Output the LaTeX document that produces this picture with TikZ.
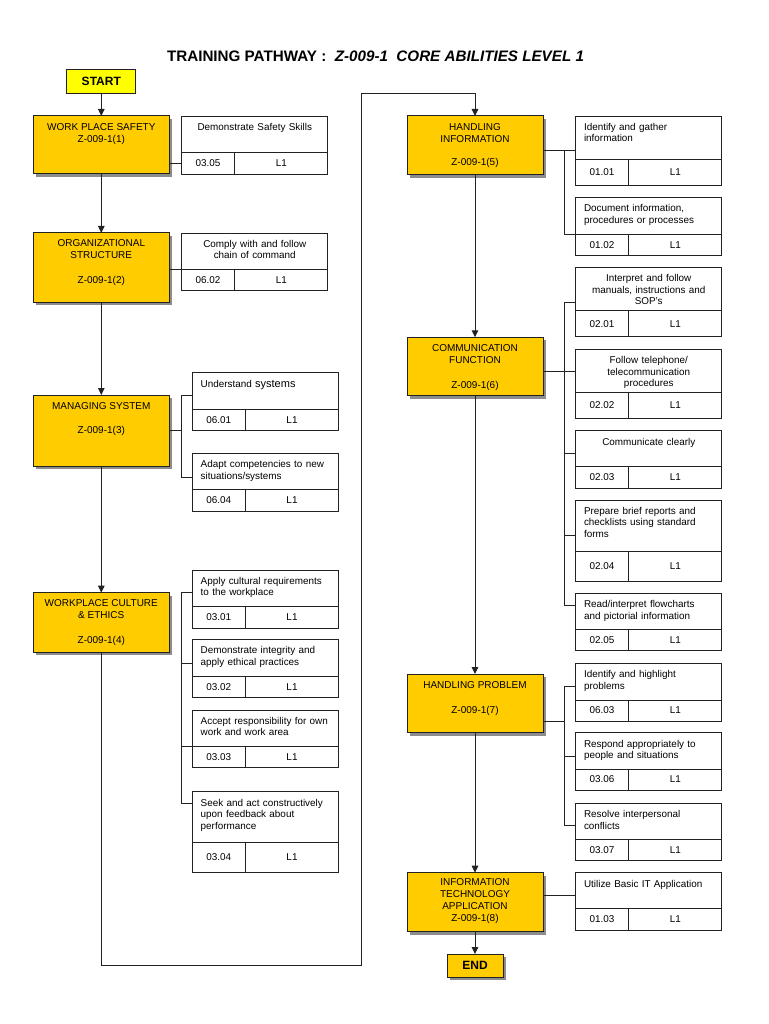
\documentclass[tikz,border=0pt]{standalone}
\usepackage{fontspec}
\setmainfont{Liberation Sans}
\usetikzlibrary{arrows.meta, positioning, shadows}
\definecolor{tpGold}{HTML}{FFCC00}
\definecolor{tpYellow}{HTML}{FFFF00}
\definecolor{tpLine}{HTML}{222222}
\definecolor{tpShadow}{HTML}{8C8C8C}
\tikzset{
  unitbox/.style={rectangle, draw=tpLine, line width=1pt, fill=tpGold,
    minimum width=136pt, inner sep=0pt, outer sep=0pt, anchor=north,
    drop shadow={shadow xshift=3pt, shadow yshift=-3pt, fill=tpShadow, opacity=1}},
  unittext/.style={align=center, inner sep=0pt, font=\fontsize{10}{12}\selectfont},
  termbox/.style={rectangle, draw=tpLine, line width=1pt, inner sep=0pt, outer sep=0pt,
    font=\bfseries\fontsize{12}{14}\selectfont},
  descbox/.style={rectangle, draw=tpLine, line width=0.9pt, anchor=north west,
    minimum width=146.5pt, inner sep=0pt, outer sep=0pt},
  descL/.style={anchor=north west, xshift=8.5pt, yshift=-7pt, text width=137pt,
    align=left, inner sep=0pt, font=\fontsize{9.9}{11.5}\selectfont},
  descC/.style={anchor=north west, xshift=4.75pt, yshift=-7pt, text width=137pt,
    align=center, inner sep=0pt, font=\fontsize{9.9}{11.5}\selectfont},
  codecell/.style={rectangle, draw=tpLine, line width=0.9pt, anchor=north west,
    minimum width=53.5pt, inner sep=0pt, outer sep=0pt, font=\fontsize{9.9}{11.5}\selectfont},
  lvlcell/.style={rectangle, draw=tpLine, line width=0.9pt, anchor=north west,
    minimum width=93pt, inner sep=0pt, outer sep=0pt, font=\fontsize{9.9}{11.5}\selectfont},
  flow/.style={-{Triangle[length=7pt, width=6.5pt]}, line width=1pt, draw=tpLine},
  link/.style={line width=0.9pt, draw=tpLine}
}
% skill box: name, top-left, text height, row height, text style, text, code
\newcommand{\skill}[7]{%
  \node[descbox, minimum height=#3] (#1) at (#2) {};
  \node[#5] at (#1.north west) {#6};
  \node[codecell, minimum height=#4] (#1c) at (#1.south west) {#7};
  \node[lvlcell, minimum height=#4] (#1l) at (#1c.north east) {L1};}

\begin{document}
\begin{tikzpicture}[x=1pt, y=-1pt]
  \fill[white] (0,0) rectangle (768,1024);
  \useasboundingbox (0,0) rectangle (768,1024);

  \node[font=\bfseries\fontsize{15.2}{17}\selectfont] (title) at (375.5,56)
    {TRAINING PATHWAY :\ \ \textit{Z-009-1\ \ CORE ABILITIES LEVEL 1}};

  % left column
  \node[termbox, fill=tpYellow, minimum width=68.7, minimum height=24] (start) at (101.3,81.3) {START};

  \node[unitbox, minimum height=58] (u1) at (101.3,116) {};
  \node[unittext, below=7pt of u1.north] {WORK PLACE SAFETY\\Z-009-1(1)};
  \node[unitbox, minimum height=69] (u2) at (101.3,233) {};
  \node[unittext, below=6pt of u2.north] {ORGANIZATIONAL\\STRUCTURE\\[13pt]Z-009-1(2)};
  \node[unitbox, minimum height=71] (u3) at (101.3,395) {};
  \node[unittext, below=7pt of u3.north] {MANAGING SYSTEM\\[12.7pt]Z-009-1(3)};
  \node[unitbox, minimum height=59.3] (u4) at (101.3,592.7) {};
  \node[unittext, below=7pt of u4.north] {WORKPLACE CULTURE\\\& ETHICS\\[12.7pt]Z-009-1(4)};

  \skill{s1}{181.3,116}{36.7}{21.3}{descC}{Demonstrate Safety Skills}{03.05}
  \skill{s2}{181.3,233}{36.3}{21.4}{descC}{Comply with and follow\\chain of command}{06.02}
  \skill{s3a}{192,372.7}{36.6}{21.4}{descL}{Understand {\fontsize{11}{11.5}\selectfont systems}}{06.01}
  \skill{s3b}{192,453.3}{36}{21.7}{descL}{Adapt competencies to new\\situations/systems}{06.04}
  \skill{s4a}{192,570}{36.7}{21.6}{descL}{Apply cultural requirements\\to the workplace}{03.01}
  \skill{s4b}{192,639.3}{36.7}{21.3}{descL}{Demonstrate integrity and\\apply ethical practices}{03.02}
  \skill{s4c}{192,710}{36}{21.7}{descL}{Accept responsibility for own\\work and work area}{03.03}
  \skill{s4d}{192,791.7}{51}{29.6}{descL}{Seek and act constructively\\upon feedback about\\performance}{03.04}

  % right column
  \node[unitbox, minimum height=59] (u5) at (475,116) {};
  \node[unittext, below=7pt of u5.north] {HANDLING\\INFORMATION\\[11.4pt]Z-009-1(5)};
  \node[unitbox, minimum height=58.4] (u6) at (475,337.3) {};
  \node[unittext, below=7pt of u6.north] {COMMUNICATION\\FUNCTION\\[12.7pt]Z-009-1(6)};
  \node[unitbox, minimum height=58.7] (u7) at (475,674) {};
  \node[unittext, below=7pt of u7.north] {HANDLING PROBLEM\\[13.4pt]Z-009-1(7)};
  \node[unitbox, minimum height=59] (u8) at (475,872.7) {};
  \node[unittext, below=6pt of u8.north] {INFORMATION\\TECHNOLOGY\\APPLICATION\\Z-009-1(8)};
  \node[termbox, fill=tpGold, minimum width=56, minimum height=23.3,
    drop shadow={shadow xshift=3pt, shadow yshift=-3pt, fill=tpShadow, opacity=1}] (finish) at (475,965.7) {END};

  \skill{s5a}{575.3,116}{43.3}{26.4}{descL}{Identify and gather\\information}{01.01}
  \skill{s5b}{575.3,197.3}{37}{21.4}{descL}{Document information,\\procedures or processes}{01.02}
  \skill{s6a}{575.3,267.3}{43.4}{26}{descC}{Interpret and follow\\manuals, instructions and\\SOP's}{02.01}
  \skill{s6b}{575.3,349.3}{43.4}{25.6}{descC}{Follow telephone/\\telecommunication\\procedures}{02.02}
  \skill{s6c}{575.3,430.7}{36}{21.6}{descC}{Communicate clearly}{02.03}
  \skill{s6d}{575.3,500}{51}{30}{descL}{Prepare brief reports and\\checklists using standard\\forms}{02.04}
  \skill{s6e}{575.3,593.3}{36}{21.4}{descL}{Read/interpret flowcharts\\and pictorial information}{02.05}
  \skill{s7a}{575.3,663.3}{36.7}{21}{descL}{Identify and highlight\\problems}{06.03}
  \skill{s7b}{575.3,732.7}{36.3}{21}{descL}{Respond appropriately to\\people and situations}{03.06}
  \skill{s7c}{575.3,803.3}{36}{21.4}{descL}{Resolve interpersonal\\conflicts}{03.07}
  \skill{s8}{575.3,872.7}{36}{21.3}{descL}{Utilize Basic IT Application}{01.03}

  % main flow
  \coordinate (loopA) at (361.7,965.7);
  \coordinate (loopB) at (361.7,93.3);
  \draw[flow] (start) -- (u1);
  \draw[flow] (u1) -- (u2);
  \draw[flow] (u2) -- (u3);
  \draw[flow] (u3) -- (u4);
  \draw[flow] (u4.south) |- (loopA) -- (loopB) -| (u5.north);
  \draw[flow] (u5) -- (u6);
  \draw[flow] (u6) -- (u7);
  \draw[flow] (u7) -- (u8);
  \draw[flow] (u8) -- (finish);

  % unit to skill links
  \draw[link] (u1.east |- s1c.west) -- (s1c.west);
  \draw[link] (u2.east |- s2c.north west) -- (s2c.north west);

  \coordinate (j3) at ([xshift=-10.7, yshift=-4]s3a.west);
  \draw[link] ([yshift=-4]s3a.west) -- (j3) |- ([yshift=-6]s3b.west);
  \draw[link] (u3.east |- s3ac.south) -- (j3 |- s3ac.south);

  \coordinate (j4) at ([xshift=-10.7, yshift=-4]s4a.west);
  \draw[link] ([yshift=-4]s4a.west) -- (j4) |- ([yshift=-12]s4d.north west);
  \draw[link] ([yshift=-6]s4b.west) -- ++(-10.7,0);
  \draw[link] (s4c.south west) -- ++(-10.7,0);

  \coordinate (j5) at ([xshift=-11.3, yshift=-13]s5a.west);
  \draw[link] (u5.east |- j5) -- ([yshift=-13]s5a.west);
  \draw[link] (j5) |- (s5b.south west);

  \coordinate (j6) at ([xshift=-11.3, yshift=-13.7]s6a.west);
  \draw[link] ([yshift=-13.7]s6a.west) -- (j6) |- ([yshift=6]s6e.west);
  \draw[link] (u6.east |- s6b.west) -- (s6b.west);
  \draw[link] ([yshift=-4.6]s6c.west) -- ++(-11.3,0);
  \draw[link] ([yshift=-10]s6d.west) -- ++(-11.3,0);

  \coordinate (j7) at ([xshift=-11.3, yshift=-4.3]s7a.west);
  \draw[link] ([yshift=-4.3]s7a.west) -- (j7) |- ([yshift=-4.4]s7c.west);
  \draw[link] ([yshift=-6]s7b.west) -- ++(-11.3,0);
  \draw[link] (u7.east |- s7ac.south) -- (j7 |- s7ac.south);

  \coordinate (j8) at ([yshift=-5]s8.west);
  \draw[link] (u8.east |- j8) -- (j8);
\end{tikzpicture}
\end{document}
